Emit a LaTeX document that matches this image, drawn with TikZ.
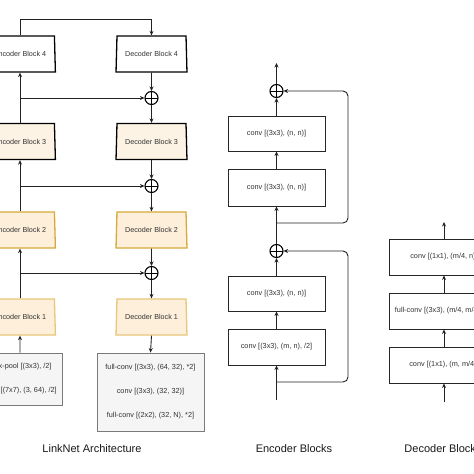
\documentclass[tikz,border=0pt]{standalone}
\usepackage{fontspec}
\setmainfont{Liberation Sans}
\usetikzlibrary{shapes.geometric,arrows.meta}
\definecolor{creamA}{HTML}{FCF3E4}
\definecolor{creamB}{HTML}{FDEFDA}
\definecolor{goldA}{HTML}{D6A93A}
\definecolor{goldB}{HTML}{E8C67A}
\definecolor{grayfill}{HTML}{F5F5F5}
\definecolor{grayline}{HTML}{7A7A7A}
\definecolor{lineC}{HTML}{222222}
\tikzset{
  blk/.style={trapezium, trapezium angle=82, trapezium stretches=true,
    minimum width=71pt, minimum height=36pt, line width=1.3pt,
    font=\fontsize{7.2}{8}\selectfont, text=black!80, inner sep=0pt},
  blkfour/.style={blk, draw=black, fill=white},
  blkthree/.style={blk, draw=black, fill=creamA},
  blktwo/.style={blk, draw=goldA, fill=creamB},
  blkone/.style={blk, draw=goldB, fill=creamB},
  plusnode/.style={circle, draw=black, line width=1.1pt, minimum size=13pt, inner sep=0pt,
    path picture={\draw[line width=0.9pt] (path picture bounding box.north) -- (path picture bounding box.south)
      (path picture bounding box.west) -- (path picture bounding box.east);}},
  gbox/.style={rectangle, draw=grayline, fill=grayfill, line width=0.9pt, align=center,
    font=\fontsize{7.3}{24}\selectfont, text=black!80},
  cbox/.style={rectangle, draw=black!85, fill=white, line width=0.9pt,
    font=\fontsize{7.3}{8}\selectfont, text=black!80, minimum height=36pt},
  conn/.style={draw=lineC, line width=0.9pt},
  arr/.style={conn, -{Stealth[length=4.5pt,width=4pt]}},
  lab/.style={font=\fontsize{11}{13}\selectfont, text=black!90}
}
\begin{document}
\begin{tikzpicture}[x=1pt,y=-1pt]
\path[use as bounding box, clip] (0,0) rectangle (474,474);
\fill[white] (0,0) rectangle (474,474);

% LinkNet architecture
\node[blkfour]  (e4) at (20,54)    {Encoder Block 4};
\node[blkfour]  (d4) at (151.5,54) {Decoder Block 4};
\node[blkthree] (e3) at (20,141.5)    {Encoder Block 3};
\node[blkthree] (d3) at (151.5,141.5) {Decoder Block 3};
\node[blktwo]   (e2) at (20,230)    {Encoder Block 2};
\node[blktwo]   (d2) at (151.5,230) {Decoder Block 2};
\node[blkone]   (e1) at (20,317)    {Encoder Block 1};
\node[blkone]   (d1) at (151.5,317) {Decoder Block 1};
\node[plusnode] (p4) at (151.5,98) {};
\node[plusnode] (p3) at (151.5,186) {};
\node[plusnode] (p2) at (151.5,273) {};
\node[gbox, minimum width=84pt, minimum height=52pt] (ein) at (20,379)
  {max-pool [(3x3), /2]\\conv [(7x7), (3, 64), /2]};
\node[gbox, minimum width=107pt, minimum height=78pt] (dout) at (150.5,392)
  {full-conv [(3x3), (64, 32), *2]\\conv [(3x3), (32, 32)]\\full-conv [(2x2), (32, N), *2]};

\draw[arr] (e4.north) -- ++(0,-16) -| (d4.north);
\draw[arr] (d4.south) -- (p4.north);
\draw[arr] (p4.south) -- (d3.north);
\draw[arr] (d3.south) -- (p3.north);
\draw[arr] (p3.south) -- (d2.north);
\draw[arr] (d2.south) -- (p2.north);
\draw[arr] (p2.south) -- (d1.north);
\draw[arr] (d1.south) -- (dout.north);
\draw[arr] (e3.north) -- (e4.south);
\draw[arr] (e2.north) -- (e3.south);
\draw[arr] (e1.north) -- (e2.south);
\draw[arr] (ein.north) -- (e1.south);
\draw[arr] (e3.north |- p4.west) -- (p4.west);
\draw[arr] (e2.north |- p3.west) -- (p3.west);
\draw[arr] (e1.north |- p2.west) -- (p2.west);

% Encoder block
\node[cbox, minimum width=97pt, minimum height=35pt] (b1) at (276.5,133.5) {conv [(3x3), (n, n)]};
\node[cbox, minimum width=97pt, minimum height=37pt] (b2) at (276.5,187.5) {conv [(3x3), (n, n)]};
\node[cbox, minimum width=97pt, minimum height=35pt] (b3) at (276.5,293.5) {conv [(3x3), (n, n)]};
\node[cbox, minimum width=97pt, minimum height=36pt] (b4) at (276.5,347) {conv [(3x3), (m, n), /2]};
\node[plusnode] (q1) at (276.5,91) {};
\node[plusnode] (q2) at (276.5,251) {};
\coordinate (etop) at (276.5,63);
\coordinate (ebot) at (276.5,400);
\coordinate (s1) at (276.5,223);
\coordinate (s2) at (276.5,382);
\draw[arr] (q1.north) -- (etop);
\draw[arr] (b1.north) -- (q1.south);
\draw[arr] (b2.north) -- (b1.south);
\draw[arr] (q2.north) -- (b2.south);
\draw[arr] (b3.north) -- (q2.south);
\draw[arr] (b4.north) -- (b3.south);
\draw[arr] (ebot) -- (b4.south);
\draw[arr, rounded corners=5pt] (s1) -- (348,223) -- (348,91) -- (q1.east);
\draw[arr, rounded corners=5pt] (s2) -- (348,382) -- (348,251) -- (q2.east);

% Decoder block
\node[cbox, minimum width=110pt] (c3) at (444,257) {conv [(1x1), (m/4, n)]};
\node[cbox, minimum width=110pt] (c2) at (444,311) {full-conv [(3x3), (m/4, m/4), *2]};
\node[cbox, minimum width=110pt] (c1) at (444,365) {conv [(1x1), (m, m/4)]};
\coordinate (dtop) at (444,222);
\coordinate (dbot) at (444,402);
\draw[arr] (c3.north) -- (dtop);
\draw[arr] (c2.north) -- (c3.south);
\draw[arr] (c1.north) -- (c2.south);
\draw[arr] (dbot) -- (c1.south);

% Labels
\node[lab] (l1) at (92,449) {LinkNet Architecture};
\node[lab] (l2) at (294,449) {Encoder Blocks};
\node[lab] (l3) at (443,449) {Decoder Blocks};
\end{tikzpicture}
\end{document}
